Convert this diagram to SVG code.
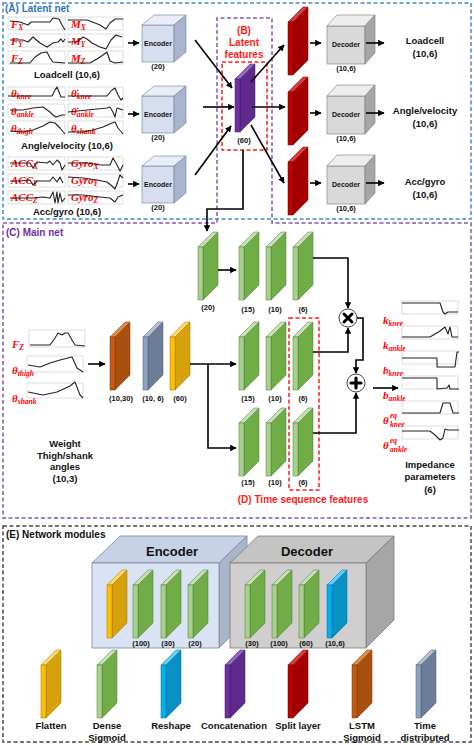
<svg xmlns="http://www.w3.org/2000/svg" xmlns:xlink="http://www.w3.org/1999/xlink" width="474" height="745" viewBox="0 0 474 745">
<style>
text{font-family:"Liberation Sans",Arial,sans-serif;font-weight:bold;fill:#111;}
.t7{font-size:7px;text-anchor:middle;}
.t8{font-size:7.5px;text-anchor:middle;}
.t9{font-size:9.5px;text-anchor:middle;}
.hd{font-size:10px;}
.big{font-size:13px;text-anchor:middle;}
.ml{font-family:"Liberation Serif","Times New Roman",serif;font-style:italic;font-weight:bold;fill:#ff0000;font-size:11px;}
.ml tspan.s{font-size:7.5px;}
.pb{fill:#fff;stroke:#d4d4d4;stroke-width:0.8;}
.cv{fill:none;stroke:#222;stroke-width:1.1;stroke-linejoin:round;}
.cn{fill:none;stroke:#000;stroke-width:1.6;}
.ca{fill:none;stroke:#000;stroke-width:1.6;marker-end:url(#ah);}
.sl{stroke-width:0.5;}
</style>
<defs>
<marker id="ah" viewBox="0 0 10 10" refX="9" refY="5" markerWidth="6.5" markerHeight="6.5" markerUnits="userSpaceOnUse" orient="auto"><path d="M0,0 L10,5 L0,10 z" fill="#000"/></marker>
<g id="sg" class="sl" stroke="#4f7a31"><polygon points="5,15 20,0 20,53 5,68" fill="#70ad47"/><polygon points="0,15 15,0 20,0 5,15" fill="#c5e0b4"/><rect x="0" y="15" width="5" height="53" fill="#a9d18e"/></g>
<g id="sy" class="sl" stroke="#9c7400"><polygon points="5,15 20,0 20,53 5,68" fill="#d6a10c"/><polygon points="0,15 15,0 20,0 5,15" fill="#ffd966"/><rect x="0" y="15" width="5" height="53" fill="#ffc000"/></g>
<g id="sb" class="sl" stroke="#006b96"><polygon points="5,15 20,0 20,53 5,68" fill="#0991c6"/><polygon points="0,15 15,0 20,0 5,15" fill="#5fd0f8"/><rect x="0" y="15" width="5" height="53" fill="#00b0f0"/></g>
<g id="sp" class="sl" stroke="#3d1a63"><polygon points="5,15 20,0 20,53 5,68" fill="#5e2a8c"/><polygon points="0,15 15,0 20,0 5,15" fill="#9566c4"/><rect x="0" y="15" width="5" height="53" fill="#7030a0"/></g>
<g id="sr" class="sl" stroke="#6e0000"><polygon points="5,15 20,0 20,53 5,68" fill="#a50000"/><polygon points="0,15 15,0 20,0 5,15" fill="#e03a3a"/><rect x="0" y="15" width="5" height="53" fill="#c00000"/></g>
<g id="so" class="sl" stroke="#7a3a08"><polygon points="5,15 20,0 20,53 5,68" fill="#a8500f"/><polygon points="0,15 15,0 20,0 5,15" fill="#e58a45"/><rect x="0" y="15" width="5" height="53" fill="#c55a11"/></g>
<g id="sa" class="sl" stroke="#4a5870"><polygon points="5,15 20,0 20,53 5,68" fill="#6b7d98"/><polygon points="0,15 15,0 20,0 5,15" fill="#b4c0d2"/><rect x="0" y="15" width="5" height="53" fill="#8fa2bd"/></g>
<g id="enc" stroke="#6f7f9c" stroke-width="0.6"><rect x="0" y="0" width="32" height="37" fill="#d7deef"/><polygon points="0,0 12,-10 44,-10 32,0" fill="#e9edf7"/><polygon points="32,0 44,-10 44,27 32,37" fill="#a9b5cf"/></g>
<g id="dec" stroke="#7a7a7a" stroke-width="0.6"><rect x="0" y="0" width="38" height="38" fill="#d9d9d9"/><polygon points="0,0 10,-11 48,-11 38,0" fill="#ededed"/><polygon points="38,0 48,-11 48,27 38,38" fill="#a6a6a6"/></g>
</defs>
<rect width="474" height="745" fill="#fff"/>

<!-- panel borders -->
<g id="panels" fill="none" stroke-width="1.5" stroke-dasharray="4,2.5">
<rect x="3" y="3" width="468" height="216" stroke="#3f8bd0"/>
<path d="M3,223 H217 V18 H272 V223 H471 V518 H3 Z" stroke="#7f58b4"/>
<rect x="3" y="526" width="468" height="216" stroke="#4a4a4a"/>
<rect x="222" y="62" width="45" height="88" stroke="#ff1a1a"/>
<rect x="289" y="318" width="30" height="172" stroke="#ff1a1a"/>
</g>
<text class="hd" x="5" y="12" style="fill:#2e75b6">(A) Latent net</text>
<text class="hd" x="6" y="236" style="fill:#7030a0">(C) Main net</text>
<text class="hd" x="6" y="538">(E) Network modules</text>
<g id="labelB"><text class="hd" x="244" y="34" text-anchor="middle" style="fill:#ff1a1a">(B)</text><text class="hd" x="244" y="46" text-anchor="middle" style="fill:#ff1a1a">Latent</text><text class="hd" x="244" y="58" text-anchor="middle" style="fill:#ff1a1a">features</text></g>
<text class="hd" x="303" y="503" text-anchor="middle" style="fill:#ff1a1a">(D) Time sequence features</text>

<!-- loadcell signals -->
<g id="sig-loadcell">
<rect class="pb" x="8" y="17" width="57" height="13"/><rect class="pb" x="68" y="17" width="55" height="13"/>
<rect class="pb" x="8" y="34" width="57" height="13"/><rect class="pb" x="68" y="34" width="55" height="13"/>
<rect class="pb" x="8" y="51" width="57" height="13"/><rect class="pb" x="68" y="51" width="55" height="13"/>
<text class="ml" x="11" y="28">F<tspan class="s" dy="2">X</tspan></text>
<text class="ml" x="71" y="28">M<tspan class="s" dy="2">X</tspan></text>
<text class="ml" x="11" y="45">F<tspan class="s" dy="2">Y</tspan></text>
<text class="ml" x="71" y="45">M<tspan class="s" dy="2">Y</tspan></text>
<text class="ml" x="11" y="62">F<tspan class="s" dy="2">Z</tspan></text>
<text class="ml" x="71" y="62">M<tspan class="s" dy="2">Z</tspan></text>
<polyline class="cv" points="10,21 20,22 28,25 31,22 37,22 50,22 53,18 59,19 62,25 65,30"/>
<polyline class="cv" points="68,20 87,20 95,23 100,25 106,29 110,23 115,19 123,19"/>
<polyline class="cv" points="10,40 23,40 28,42 33,37 40,43 47,47 53,43 58,42 61,39 63,42 65,39"/>
<polyline class="cv" points="68,42 77,42 83,37 87,39 92,43 100,47 106,49 111,40 116,35 122,37"/>
<polyline class="cv" points="10,63 30,63 35,57 41,53 47,52 50,58 53,62 65,63"/>
<polyline class="cv" points="68,63 90,63 97,59 103,55 107,52 110,61 115,63 123,62"/>
<text class="t9" x="67" y="78">Loadcell (10,6)</text>
</g>
<g id="sig-angle">
<rect class="pb" x="8" y="87" width="57" height="13"/><rect class="pb" x="68" y="87" width="55" height="13"/>
<rect class="pb" x="8" y="104" width="57" height="13"/><rect class="pb" x="68" y="104" width="55" height="13"/>
<rect class="pb" x="8" y="121" width="57" height="13"/><rect class="pb" x="68" y="121" width="55" height="13"/>
<text class="ml" x="11" y="97">θ<tspan class="s" dy="2">knee</tspan></text>
<text class="ml" x="71" y="97">θ̇<tspan class="s" dy="2">knee</tspan></text>
<text class="ml" x="11" y="115">θ<tspan class="s" dy="2">ankle</tspan></text>
<text class="ml" x="71" y="115">θ̇<tspan class="s" dy="2">ankle</tspan></text>
<text class="ml" x="11" y="132">θ<tspan class="s" dy="2">thigh</tspan></text>
<text class="ml" x="71" y="132">θ<tspan class="s" dy="2">shank</tspan></text>
<polyline class="cv" points="8,96 52,96 55,90 57,87 59,92 61,97 65,97"/>
<polyline class="cv" points="68,96 107,96 112,90 115,88 118,95 121,100 123,98"/>
<polyline class="cv" points="10,110 23,110 33,108 43,107 50,112 53,115 56,117 62,115 65,115"/>
<polyline class="cv" points="68,112 87,110 97,109 107,108 110,107 113,112 115,117 117,108 123,110"/>
<polyline class="cv" points="10,131 23,132 33,130 43,126 50,122 55,123 60,128 65,134"/>
<polyline class="cv" points="68,132 83,132 93,130 103,127 112,123 115,122 118,128 123,134"/>
<text class="t9" x="67" y="149">Angle/velocity (10,6)</text>
</g>
<g id="sig-acc">
<rect class="pb" x="8" y="157" width="57" height="13"/><rect class="pb" x="68" y="157" width="55" height="13"/>
<rect class="pb" x="8" y="174" width="57" height="13"/><rect class="pb" x="68" y="174" width="55" height="13"/>
<rect class="pb" x="8" y="191" width="57" height="13"/><rect class="pb" x="68" y="191" width="55" height="13"/>
<text class="ml" x="11" y="167">ACC<tspan class="s" dy="2">X</tspan></text>
<text class="ml" x="71" y="167">Gyro<tspan class="s" dy="2">X</tspan></text>
<text class="ml" x="11" y="184">ACC<tspan class="s" dy="2">Y</tspan></text>
<text class="ml" x="71" y="184">Gyro<tspan class="s" dy="2">Y</tspan></text>
<text class="ml" x="11" y="201">ACC<tspan class="s" dy="2">Z</tspan></text>
<text class="ml" x="71" y="201">Gyro<tspan class="s" dy="2">Z</tspan></text>
<polyline class="cv" points="10,163 30,163 33,168 37,162 47,163 50,161 53,165 57,160 60,163 62,170 65,165"/>
<polyline class="cv" points="68,163 87,163 100,165 110,165 113,158 117,165 120,171 123,165"/>
<polyline class="cv" points="10,181 20,181 30,180 33,185 37,181 50,181 53,177 57,182 60,177 63,183"/>
<polyline class="cv" points="68,177 83,178 97,180 107,182 112,186 115,189 118,181 120,175 123,178"/>
<polyline class="cv" points="10,198 33,198 43,197 50,198 53,192 55,203 57,192 58,203 60,193 62,202 65,198"/>
<polyline class="cv" points="68,195 83,195 100,197 110,198 115,202 118,197 123,195"/>
<text class="t9" x="67" y="215">Acc/gyro (10,6)</text>
</g>

<!-- encoders -->
<g id="encoder1" transform="translate(142,25)"><use href="#enc"/><text class="t7" x="16" y="21">Encoder</text><text class="t8" x="16" y="44">(20)</text></g>
<g id="encoder2" transform="translate(142,96)"><use href="#enc"/><text class="t7" x="16" y="21">Encoder</text><text class="t8" x="16" y="44">(20)</text></g>
<g id="encoder3" transform="translate(142,166)"><use href="#enc"/><text class="t7" x="16" y="21">Encoder</text><text class="t8" x="16" y="44">(20)</text></g>

<g id="concat"><use href="#sp" x="235" y="64"/><text class="t8" x="244" y="143">(60)</text></g>

<g id="split1"><use href="#sr" x="288" y="7"/></g>
<g id="split2"><use href="#sr" x="288" y="77"/></g>
<g id="split3"><use href="#sr" x="288" y="147"/></g>

<g id="decoder1" transform="translate(327,26)"><use href="#dec"/><text class="t7" x="19" y="21">Decoder</text><text class="t8" x="19" y="45">(10,6)</text></g>
<g id="decoder2" transform="translate(327,96)"><use href="#dec"/><text class="t7" x="19" y="21">Decoder</text><text class="t8" x="19" y="45">(10,6)</text></g>
<g id="decoder3" transform="translate(327,166)"><use href="#dec"/><text class="t7" x="19" y="21">Decoder</text><text class="t8" x="19" y="45">(10,6)</text></g>

<g id="outputs">
<text class="t9" x="425" y="44">Loadcell</text><text class="t9" x="425" y="57">(10,6)</text>
<text class="t9" x="425" y="114">Angle/velocity</text><text class="t9" x="425" y="127">(10,6)</text>
<text class="t9" x="425" y="185">Acc/gyro</text><text class="t9" x="425" y="198">(10,6)</text>
</g>

<!-- main net -->
<g id="main-inputs">
<rect class="pb" x="29" y="330" width="56" height="17"/>
<rect class="pb" x="27" y="356" width="56" height="16"/>
<rect class="pb" x="27" y="383" width="56" height="15"/>
<text class="ml" x="12" y="348">F<tspan class="s" dy="2">Z</tspan></text>
<text class="ml" x="12" y="374">θ<tspan class="s" dy="2">thigh</tspan></text>
<text class="ml" x="12" y="402">θ<tspan class="s" dy="2">shank</tspan></text>
<polyline class="cv" points="30,345 50,345 55,338 58,333 62,335 65,333 68,333 72,340 75,345 85,346"/>
<polyline class="cv" points="28,365 40,367 50,363 60,360 72,357 77,368 83,372"/>
<polyline class="cv" points="28,392 43,395 57,392 70,386 75,382 80,395 83,398"/>
<text class="t9" x="65" y="447">Weight</text>
<text class="t9" x="65" y="459">Thigh/shank</text>
<text class="t9" x="65" y="470">angles</text>
<text class="t9" x="65" y="482">(10,3)</text>
</g>
<g id="lstm"><use href="#so" x="110" y="322"/><text class="t8" x="121" y="401">(10,30)</text></g>
<g id="timedist"><use href="#sa" x="143" y="322"/><text class="t8" x="153" y="401">(10, 6)</text></g>
<g id="flatten"><use href="#sy" x="170" y="322"/><text class="t8" x="180" y="401">(60)</text></g>
<g id="dense20"><use href="#sg" x="198" y="232"/><text class="t8" x="208" y="310">(20)</text></g>
<g id="row1"><use href="#sg" x="239" y="232"/><use href="#sg" x="266" y="232"/><use href="#sg" x="293" y="232"/>
<text class="t8" x="248" y="312">(15)</text><text class="t8" x="275" y="312">(10)</text><text class="t8" x="303" y="312">(6)</text></g>
<g id="row2"><use href="#sg" x="239" y="322"/><use href="#sg" x="266" y="322"/><use href="#sg" x="293" y="322"/>
<text class="t8" x="248" y="401">(15)</text><text class="t8" x="275" y="401">(10)</text><text class="t8" x="303" y="401">(6)</text></g>
<g id="row3"><use href="#sg" x="239" y="408"/><use href="#sg" x="266" y="408"/><use href="#sg" x="293" y="408"/>
<text class="t8" x="248" y="485">(15)</text><text class="t8" x="275" y="485">(10)</text><text class="t8" x="303" y="485">(6)</text></g>
<g id="multiply"><circle cx="348" cy="318" r="9" fill="#fff" stroke="#444" stroke-width="1"/><path d="M344,314 L352,322 M352,314 L344,322" stroke="#000" stroke-width="3" stroke-linecap="round"/></g>
<g id="plus"><circle cx="356" cy="383" r="9" fill="#fff" stroke="#444" stroke-width="1"/><path d="M356,378 V388 M351,383 H361" stroke="#000" stroke-width="3.2" stroke-linecap="round"/></g>

<g id="impedance">
<rect class="pb" x="402" y="301" width="56" height="13"/>
<rect class="pb" x="402" y="326" width="56" height="13"/>
<rect class="pb" x="402" y="351" width="56" height="13"/>
<rect class="pb" x="402" y="376" width="56" height="13"/>
<rect class="pb" x="402" y="401" width="56" height="13"/>
<rect class="pb" x="402" y="426" width="56" height="13"/>
<text class="ml" x="383" y="324">k<tspan class="s" dy="2">knee</tspan></text>
<text class="ml" x="383" y="349">k<tspan class="s" dy="2">ankle</tspan></text>
<text class="ml" x="383" y="374">b<tspan class="s" dy="2">knee</tspan></text>
<text class="ml" x="383" y="399">b<tspan class="s" dy="2">ankle</tspan></text>
<text class="ml" x="383" y="424">θ</text><text class="ml" style="font-size:7.5px" x="390" y="418">eq</text><text class="ml" style="font-size:7.5px" x="390" y="427">knee</text>
<text class="ml" x="383" y="449">θ</text><text class="ml" style="font-size:7.5px" x="390" y="443">eq</text><text class="ml" style="font-size:7.5px" x="390" y="452">ankle</text>
<polyline class="cv" points="402,303 440,303 443,312 445,314 448,312 458,312"/>
<polyline class="cv" points="402,337 430,337 440,331 445,327 448,334 450,327 452,337 458,337"/>
<polyline class="cv" points="402,358 437,358 437,367 450,367 455,367 457,352 459,352"/>
<polyline class="cv" points="402,378 437,378 437,389 447,388 449,385 450,389 459,389"/>
<polyline class="cv" points="402,413 440,413 443,403 450,403 453,413 459,413"/>
<polyline class="cv" points="402,431 430,431 435,435 440,440 443,438 445,429 448,430 459,430"/>
<text class="t9" x="430" y="468">Impedance</text>
<text class="t9" x="430" y="480">parameters</text>
<text class="t9" x="430" y="493">(6)</text>
</g>

<!-- connectors -->
<g id="connectors">
<line class="ca" x1="128" y1="43" x2="139" y2="43"/>
<line class="ca" x1="128" y1="114" x2="139" y2="114"/>
<line class="ca" x1="128" y1="184" x2="139" y2="184"/>
<line class="ca" x1="195" y1="40" x2="232" y2="88"/>
<line class="ca" x1="203" y1="107" x2="234" y2="107"/>
<line class="ca" x1="195" y1="175" x2="231" y2="126"/>
<line class="ca" x1="251" y1="82" x2="284" y2="45"/>
<line class="ca" x1="252" y1="107" x2="285" y2="107"/>
<line class="ca" x1="251" y1="125" x2="284" y2="183"/>
<line class="ca" x1="310" y1="43" x2="321" y2="43"/>
<line class="ca" x1="310" y1="113" x2="321" y2="113"/>
<line class="ca" x1="310" y1="183" x2="321" y2="183"/>
<line class="ca" x1="366" y1="43" x2="384" y2="43"/>
<line class="ca" x1="366" y1="113" x2="384" y2="113"/>
<line class="ca" x1="366" y1="183" x2="384" y2="183"/>
<path class="ca" d="M243,150 V209 H207 V231"/>
<line class="ca" x1="218" y1="270" x2="236" y2="270"/>
<line class="ca" x1="88" y1="364" x2="105" y2="364"/>
<path class="ca" d="M190,364 H236"/>
<path class="ca" d="M208,364 V448 H236"/>
<path class="ca" d="M313,258 H348 V308"/>
<path class="ca" d="M313,352 H348 V328"/>
<path class="ca" d="M357,318 H363 V360 H356 V373"/>
<path class="ca" d="M313,433 H356 V393"/>
<line class="ca" x1="373" y1="388" x2="398" y2="388"/>
</g>

<!-- network modules -->
<g id="big-encoder" stroke="#7a879e" stroke-width="0.8">
<polygon points="92,563 120,536 247,536 219,563" fill="#c8d2e6"/>
<polygon points="219,563 247,536 247,620 219,648" fill="#aab5c9"/>
<rect x="92" y="563" width="127" height="85" fill="#dae3f3"/>
</g>
<g id="big-decoder" stroke="#7a7a7a" stroke-width="0.8">
<polygon points="230,563 258,536 394,536 366,563" fill="#c4c4c4"/>
<polygon points="366,563 394,536 394,620 366,648" fill="#a6a6a6"/>
<rect x="230" y="563" width="136" height="85" fill="#d0cece"/>
</g>
<text class="big" x="172" y="556">Encoder</text>
<text class="big" x="307" y="556">Decoder</text>
<g id="enc-layers"><use href="#sy" x="107" y="570"/><use href="#sg" x="133" y="570"/><use href="#sg" x="161" y="570"/><use href="#sg" x="188" y="570"/>
<text class="t8" x="141" y="646">(100)</text><text class="t8" x="168" y="646">(30)</text><text class="t8" x="195" y="646">(20)</text></g>
<g id="dec-layers"><use href="#sg" x="245" y="570"/><use href="#sg" x="272" y="570"/><use href="#sg" x="299" y="570"/><use href="#sb" x="327" y="570"/>
<text class="t8" x="252" y="646">(30)</text><text class="t8" x="279" y="646">(100)</text><text class="t8" x="306" y="646">(60)</text><text class="t8" x="335" y="646">(10,6)</text></g>
<g id="legend-flatten"><use href="#sy" x="41" y="650"/><text class="t9" x="51" y="729">Flatten</text></g>
<g id="legend-dense"><use href="#sg" x="97" y="650"/><text class="t9" x="107" y="729">Dense</text><text class="t9" x="107" y="741">Sigmoid</text></g>
<g id="legend-reshape"><use href="#sb" x="161" y="650"/><text class="t9" x="171" y="729">Reshape</text></g>
<g id="legend-concat"><use href="#sp" x="225" y="650"/><text class="t9" x="234" y="729">Concatenation</text></g>
<g id="legend-split"><use href="#sr" x="288" y="650"/><text class="t9" x="298" y="729">Split layer</text></g>
<g id="legend-lstm"><use href="#so" x="352" y="650"/><text class="t9" x="362" y="729">LSTM</text><text class="t9" x="362" y="741">Sigmoid</text></g>
<g id="legend-time"><use href="#sa" x="416" y="650"/><text class="t9" x="425" y="729">Time</text><text class="t9" x="425" y="741">distributed</text></g>
</svg>
